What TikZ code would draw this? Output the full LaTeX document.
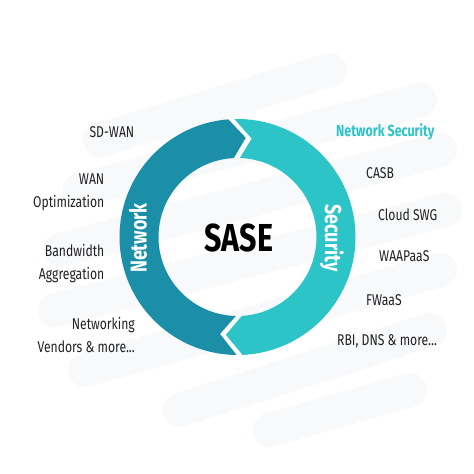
\documentclass[tikz,border=0pt]{standalone}
\usepackage{fontspec}
\setmainfont{Fira Sans}[FakeStretch=0.78]
\definecolor{darkteal}{HTML}{1A8FA7}
\definecolor{cyanteal}{HTML}{2CC4C7}
\definecolor{txt}{HTML}{222222}
\definecolor{bgstroke}{HTML}{F8F9FA}
\begin{document}
\begin{tikzpicture}[x=1pt,y=1pt,
  lbl/.style={inner sep=0pt, text=txt, font=\fontsize{15.6}{23}\selectfont},
  lft/.style={lbl, anchor=base east, align=right},
  rgt/.style={lbl, anchor=base west, align=left},
  bgs/.style={draw=bgstroke, line width=34pt, line cap=round}]
\useasboundingbox (0,0) rectangle (474,474);
\fill[white] (0,0) rectangle (474,474);
% faint background strokes
\draw[bgs] (100,334) -- (330,404);
\draw[bgs] (80,284) -- (420,374);
\draw[bgs] (60,224) -- (440,324);
\draw[bgs] (55,164) -- (445,264);
\draw[bgs] (85,104) -- (440,204);
\draw[bgs] (180,64) -- (430,144);
\draw[bgs] (270,44) -- (410,84);
% ring
\begin{scope}[shift={(237.5,237)}]
\fill[darkteal] (94.45:118) arc[start angle=94.45, end angle=269.55, radius=118]
  -- (259.75:98.5) -- (268.8:79) arc[start angle=268.8, end angle=92.7, radius=79]
  -- (85.25:99.5) -- cycle;
\fill[cyanteal] (91.55:118) -- (81.75:99.5) -- (88.3:79)
  arc[start angle=88.3, end angle=-86.8, radius=79]
  -- (-96.75:98.5) -- (-87.55:118)
  arc[start angle=-87.55, end angle=91.55, radius=118] -- cycle;
\end{scope}
% centre text
\node[font=\fontsize{39}{39}\bfseries\selectfont, text=black, inner sep=0pt] (sase) at (239,235.7) {SASE};
\node[font=\fontsize{23}{23}\bfseries\selectfont, text=white, inner sep=0pt, rotate=90, anchor=base] (net) at (146.5,236) {Network};
\node[font=\fontsize{23}{23}\bfseries\selectfont, text=white, inner sep=0pt, rotate=-90, anchor=base] (sec) at (325,236) {Security};
% left labels (base = last line)
\node[lft] (sdwan) at (134.5,336.7) {SD-WAN};
\node[lft] (wanopt) at (104.5,266.9) {WAN\\Optimization};
\node[lft] (bw) at (104.5,194.7) {Bandwidth\\Aggregation};
\node[lft] (nv) at (135,121.7) {Networking\\Vendors \& more...};
% right labels
\node[rgt, text=cyanteal, font=\fontsize{16}{23}\bfseries\selectfont] (ns) at (336,337.7) {Network Security};
\node[rgt] (casb) at (366,295.4) {CASB};
\node[rgt] (swg) at (378,253.7) {Cloud SWG};
\node[rgt] (waap) at (379,212) {WAAPaaS};
\node[rgt] (fw) at (366,168.7) {FWaaS};
\node[rgt] (rbi) at (337,128) {RBI, DNS \& more...};
\end{tikzpicture}
\end{document}
